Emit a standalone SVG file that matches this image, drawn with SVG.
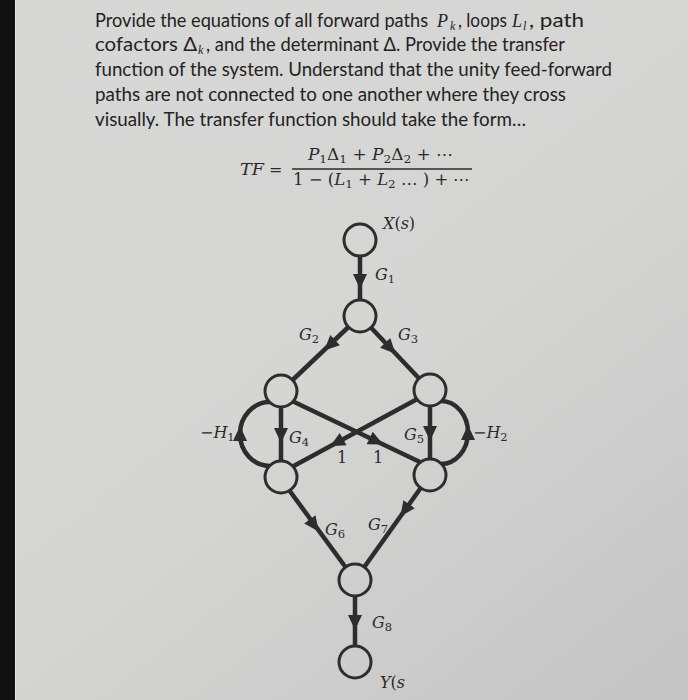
<svg xmlns="http://www.w3.org/2000/svg" xmlns:xlink="http://www.w3.org/1999/xlink" width="688" height="700" viewBox="0 0 688 700">
<defs>
<linearGradient id="bg" gradientUnits="userSpaceOnUse" x1="100" y1="0" x2="650" y2="700">
<stop offset="0" stop-color="#d7d7d5"/>
<stop offset="0.5" stop-color="#d5d5d4"/>
<stop offset="1" stop-color="#c5c5c5"/>
</linearGradient>
<path id="ah" d="M8,0 L-7,-7 L-7,7 Z" fill="#2d2d2d"/>
<style>
.para{font-family:Lato,"Open Sans","Liberation Sans",sans-serif;font-size:19.5px;fill:#232323}
.pm{font-family:"Liberation Serif","DejaVu Serif",serif;font-style:italic;fill:#232323}
.m{font-family:"DejaVu Serif","Liberation Serif",serif;font-style:italic}
.up{font-family:"DejaVu Serif","Liberation Serif",serif;font-style:normal}
.lbl{font-family:"DejaVu Serif","Liberation Serif",serif;font-style:italic;font-size:16px;fill:#2a2a2a}
.sub{font-size:11.5px;font-style:normal}
.node circle{fill:url(#bg);stroke:#2d2d2d;stroke-width:3}
.edge{fill:none;stroke:#2d2d2d;stroke-width:4.5}
</style>
</defs>
<rect width="688" height="700" fill="url(#bg)"/>
<rect x="0" y="0" width="15" height="700" fill="#111"/>
<line x1="15.5" y1="0" x2="15.5" y2="700" stroke="#e8e8e8" stroke-width="1"/>

<g id="question">
<text class="para" x="95" y="27" textLength="333" lengthAdjust="spacingAndGlyphs">Provide the equations of all forward paths</text>
<text class="pm" x="437" y="27" font-size="18">P</text>
<text class="pm" x="450" y="30" font-size="12">k</text>
<text class="para" x="458" y="27" textLength="49" lengthAdjust="spacingAndGlyphs">, loops</text>
<text class="pm" x="512" y="27" font-size="18">L</text>
<text class="pm" x="523" y="30" font-size="12">l</text>
<text class="para" x="529" y="27" textLength="55" lengthAdjust="spacingAndGlyphs">, path</text>
<text class="para" x="95" y="51" textLength="102" lengthAdjust="spacingAndGlyphs">cofactors Δ</text>
<text class="pm" x="198" y="54" font-size="12">k</text>
<text class="para" x="206" y="51" textLength="359" lengthAdjust="spacingAndGlyphs">, and the determinant Δ. Provide the transfer</text>
<text class="para" x="95" y="76" textLength="517" lengthAdjust="spacingAndGlyphs">function of the system. Understand that the unity feed-forward</text>
<text class="para" x="95" y="101" textLength="471" lengthAdjust="spacingAndGlyphs">paths are not connected to one another where they cross</text>
<text class="para" x="95" y="126" textLength="431" lengthAdjust="spacingAndGlyphs">visually. The transfer function should take the form…</text>
</g>

<g id="equation" class="lbl">
<text x="240" y="175" textLength="24" lengthAdjust="spacingAndGlyphs">TF</text>
<text class="up" x="269" y="175">=</text>
<text x="308" y="160" textLength="145" lengthAdjust="spacingAndGlyphs">P<tspan class="sub" dy="3">1</tspan><tspan class="up" dy="-3">Δ</tspan><tspan class="sub" dy="3">1</tspan><tspan class="up" dy="-3"> + </tspan>P<tspan class="sub" dy="3">2</tspan><tspan class="up" dy="-3">Δ</tspan><tspan class="sub" dy="3">2</tspan><tspan class="up" dy="-3"> + ⋯</tspan></text>
<line x1="292" y1="169" x2="472" y2="169" stroke="#2a2a2a" stroke-width="1.4"/>
<text x="293" y="185" textLength="177" lengthAdjust="spacingAndGlyphs"><tspan class="up">1 − (</tspan>L<tspan class="sub" dy="3">1</tspan><tspan class="up" dy="-3"> + </tspan>L<tspan class="sub" dy="3">2</tspan><tspan class="up" dy="-3"> … ) + ⋯</tspan></text>
</g>

<g id="connectors">
<path id="e-g1" class="edge" d="M360,256 V300"/>
<path id="e-g2" class="edge" d="M360,316 L281,391"/>
<path id="e-g3" class="edge" d="M360,316 L430,390"/>
<path id="e-g4" class="edge" d="M281,405 V463"/>
<path id="e-g5" class="edge" d="M430,404 V461"/>
<path id="e-h1" class="edge" d="M270,402 A30 32 0 0 0 270,466"/>
<path id="e-h2" class="edge" d="M441,464 A27 31.5 0 0 0 441,401"/>
<path id="e-u1" class="edge" d="M290,400 L422,463"/>
<path id="e-u2" class="edge" d="M421,397 L290,468"/>
<path id="e-g6" class="edge" d="M281,479 L355,580"/>
<path id="e-g7" class="edge" d="M430,475 L355,580"/>
<path id="e-g8" class="edge" d="M355,596 V646"/>
<use xlink:href="#ah" transform="translate(360,281) rotate(90)"/>
<use xlink:href="#ah" transform="translate(330,345) rotate(136.5)"/>
<use xlink:href="#ah" transform="translate(390,348) rotate(46.6)"/>
<use xlink:href="#ah" transform="translate(281,435) rotate(90)"/>
<use xlink:href="#ah" transform="translate(430,433) rotate(90)"/>
<use xlink:href="#ah" transform="translate(240,434) rotate(-90)"/>
<use xlink:href="#ah" transform="translate(468,433) rotate(-90)"/>
<use xlink:href="#ah" transform="translate(376,441) rotate(25.5)"/>
<use xlink:href="#ah" transform="translate(337,442.5) rotate(151.5)"/>
<use xlink:href="#ah" transform="translate(314,525) rotate(53.8)"/>
<use xlink:href="#ah" transform="translate(405,510) rotate(125.5)"/>
<use xlink:href="#ah" transform="translate(355,622) rotate(90)"/>
</g>

<g id="edge-labels" class="lbl">
<text x="375" y="280">G<tspan class="sub" dy="3">1</tspan></text>
<text x="299" y="340">G<tspan class="sub" dy="3">2</tspan></text>
<text x="398" y="340">G<tspan class="sub" dy="3">3</tspan></text>
<text x="289" y="443">G<tspan class="sub" dy="3">4</tspan></text>
<text x="404" y="440">G<tspan class="sub" dy="3">5</tspan></text>
<text x="325" y="535">G<tspan class="sub" dy="3">6</tspan></text>
<text x="368" y="530">G<tspan class="sub" dy="3">7</tspan></text>
<text x="372" y="628">G<tspan class="sub" dy="3">8</tspan></text>
<text x="200" y="438"><tspan class="up">−</tspan>H<tspan class="sub" dy="3">1</tspan></text>
<text x="473" y="438"><tspan class="up">−</tspan>H<tspan class="sub" dy="3">2</tspan></text>
<text class="up" x="337" y="463">1</text>
<text class="up" x="373" y="463">1</text>
<text x="383" y="229">X<tspan class="up">(</tspan>s<tspan class="up">)</tspan></text>
<text x="380" y="688">Y<tspan class="up">(</tspan>s</text>
</g>

<g id="n-x" class="node"><circle cx="360" cy="240" r="16"/></g>
<g id="n-1" class="node"><circle cx="360" cy="316" r="16"/></g>
<g id="n-l1" class="node"><circle cx="281" cy="391" r="16"/></g>
<g id="n-r1" class="node"><circle cx="430" cy="390" r="16"/></g>
<g id="n-l2" class="node"><circle cx="281" cy="477" r="16"/></g>
<g id="n-r2" class="node"><circle cx="430" cy="475" r="16"/></g>
<g id="n-m" class="node"><circle cx="355" cy="580" r="16"/></g>
<g id="n-y" class="node"><circle cx="355" cy="662" r="16"/></g>
</svg>
